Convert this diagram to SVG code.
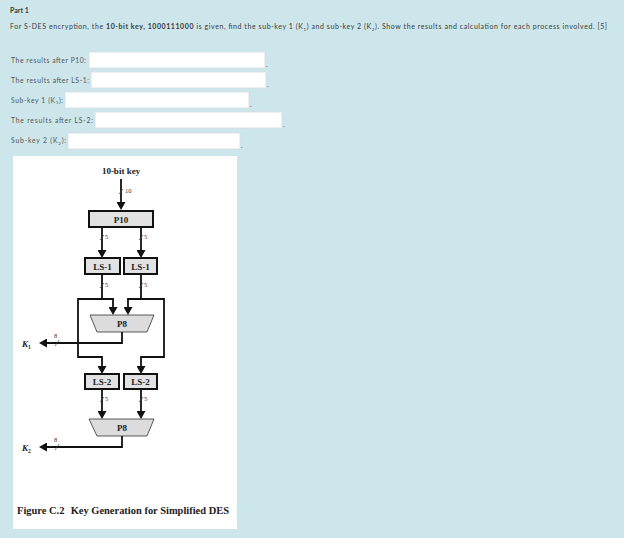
<svg xmlns="http://www.w3.org/2000/svg" width="624" height="538" viewBox="0 0 624 538">
<style>
.q{font-family:"Lato","Noto Sans",sans-serif;fill:#3a3a3a;font-size:7px}
.lb{font-family:"Lato","Noto Sans",sans-serif;fill:#555;font-size:6.8px}
.in{fill:#fff;stroke:#d5dde0;stroke-width:0.8}
.bx{fill:#e2e2e2;stroke:#111;stroke-width:2}
.tp{fill:#dcdcdc;stroke:#333;stroke-width:0.8}
.bt{font-family:"Liberation Serif","Times New Roman",serif;font-weight:bold;font-size:9px;fill:#222;text-anchor:middle}
.w{fill:none;stroke:#111;stroke-width:1.8}
.tk{stroke:#444;stroke-width:0.7}
.n{font-family:"Liberation Serif",serif;font-size:6.5px;fill:#333}
.kl{font-family:"Liberation Serif",serif;font-style:italic;font-weight:bold;font-size:9px;fill:#222}
.cap{font-family:"Liberation Serif","Times New Roman",serif;font-weight:bold;font-size:10px;fill:#222}
</style>
<defs>
<marker id="ah" markerUnits="userSpaceOnUse" markerWidth="9" markerHeight="9" refX="0" refY="4.5" orient="auto" viewBox="0 0 9 9">
<path d="M0,0 L8,4.5 L0,9 z" fill="#111"/>
</marker>
</defs>
<rect x="0" y="0" width="624" height="538" fill="#cde6eb"/>
<text class="q" x="10" y="13" font-weight="bold" font-size="6.5">Part 1</text>
<text class="q" x="10" y="29" textLength="597">For S-DES encryption, the <tspan font-weight="bold">10-bit key, 1000111000</tspan> is given, find the sub-key 1 (K<tspan font-size="4.5" dy="1.5">1</tspan><tspan dy="-1.5">) and sub-key 2 (K</tspan><tspan font-size="4.5" dy="1.5">2</tspan><tspan dy="-1.5">). Show the results and calculation for each process involved. [5]</tspan></text>

<g id="row1">
<text class="lb" x="11" y="62.5" textLength="75">The results after P10:</text>
<rect class="in" x="89" y="52" width="176" height="16"/>
<text class="lb" x="266" y="67" font-size="5">.</text>
</g>
<g id="row2">
<text class="lb" x="11" y="82.5" textLength="78">The results after LS-1:</text>
<rect class="in" x="91" y="72" width="175" height="16"/>
<text class="lb" x="267" y="87" font-size="5">.</text>
</g>
<g id="row3">
<text class="lb" x="11" y="102.5" textLength="52">Sub-key 1 (K<tspan font-size="4.5" dy="1.5">1</tspan><tspan dy="-1.5">):</tspan></text>
<rect class="in" x="65" y="92" width="184" height="16"/>
<text class="lb" x="250" y="107" font-size="5">.</text>
</g>
<g id="row4">
<text class="lb" x="11" y="122.5" textLength="82">The results after LS-2:</text>
<rect class="in" x="95" y="112" width="187" height="16"/>
<text class="lb" x="283" y="127" font-size="5">.</text>
</g>
<g id="row5">
<text class="lb" x="11" y="143" textLength="55">Sub-key 2 (K<tspan font-size="4.5" dy="1.5">2</tspan><tspan dy="-1.5">):</tspan></text>
<rect class="in" x="68" y="133" width="172" height="16"/>
<text class="lb" x="241" y="148" font-size="5">.</text>
</g>

<g id="figure">
<rect x="13" y="156" width="224" height="373" fill="#fff"/>
</g>

<g id="key">
<text class="bt" x="121" y="174" font-size="9.5">10-bit key</text>
</g>
<g id="p10">
<rect class="bx" x="89" y="211" width="64" height="16"/>
<text class="bt" x="121" y="222.5">P10</text>
</g>
<g id="ls1a">
<rect class="bx" x="85" y="258" width="35" height="16"/>
<text class="bt" x="102.5" y="269.5">LS-1</text>
</g>
<g id="ls1b">
<rect class="bx" x="124" y="258" width="33" height="16"/>
<text class="bt" x="140.5" y="269.5">LS-1</text>
</g>
<g id="p8a">
<polygon class="tp" points="90,315 154,315 147,332 97,332"/>
<text class="bt" x="122" y="326.5" font-size="8.5">P8</text>
</g>
<g id="ls2a">
<rect class="bx" x="85" y="374" width="34" height="15"/>
<text class="bt" x="102" y="385">LS-2</text>
</g>
<g id="ls2b">
<rect class="bx" x="124" y="374" width="33" height="15"/>
<text class="bt" x="140.5" y="385">LS-2</text>
</g>
<g id="p8b">
<polygon class="tp" points="89,419 154,419 147,436 97,436"/>
<text class="bt" x="122" y="430.5" font-size="8.5">P8</text>
</g>
<g id="k1">
<text class="kl" x="22" y="347">K<tspan font-size="5.5" font-style="normal" dy="1.5">1</tspan></text>
</g>
<g id="k2">
<text class="kl" x="22" y="451">K<tspan font-size="5.5" font-style="normal" dy="1.5">2</tspan></text>
</g>

<g id="connectors">
<path class="w" d="M121,179 V202" marker-end="url(#ah)"/>
<path class="w" d="M102,227 V250" marker-end="url(#ah)"/>
<path class="w" d="M141,227 V250" marker-end="url(#ah)"/>
<path class="w" d="M102,274 V299 H113 V307" marker-end="url(#ah)"/>
<path class="w" d="M102,299 H78 V357 H102 V366" marker-end="url(#ah)"/>
<path class="w" d="M141,274 V299 H128 V307" marker-end="url(#ah)"/>
<path class="w" d="M141,299 H164 V357 H141 V366" marker-end="url(#ah)"/>
<path class="w" d="M122,332 V343 H47" marker-end="url(#ah)"/>
<path class="w" d="M102,389 V411" marker-end="url(#ah)"/>
<path class="w" d="M141,389 V411" marker-end="url(#ah)"/>
<path class="w" d="M122,436 V447 H47" marker-end="url(#ah)"/>
<g id="ticks">
<line class="tk" x1="119" y1="194" x2="123" y2="189"/><text class="n" x="125" y="193">10</text>
<line class="tk" x1="100" y1="240" x2="104" y2="235"/><text class="n" x="105" y="239">5</text>
<line class="tk" x1="139" y1="240" x2="143" y2="235"/><text class="n" x="144" y="239">5</text>
<line class="tk" x1="100" y1="288" x2="104" y2="283"/><text class="n" x="105" y="287">5</text>
<line class="tk" x1="139" y1="288" x2="143" y2="283"/><text class="n" x="144" y="287">5</text>
<line class="tk" x1="55" y1="346" x2="59" y2="340"/><text class="n" x="54" y="338">8</text>
<line class="tk" x1="100" y1="402" x2="104" y2="397"/><text class="n" x="105" y="401">5</text>
<line class="tk" x1="139" y1="402" x2="143" y2="397"/><text class="n" x="144" y="401">5</text>
<line class="tk" x1="55" y1="450" x2="59" y2="444"/><text class="n" x="54" y="442">8</text>
</g>
</g>

<g id="caption">
<text class="cap" x="17" y="514" textLength="212" lengthAdjust="spacingAndGlyphs">Figure C.2<tspan dx="6">Key Generation for Simplified DES</tspan></text>
</g>
</svg>
